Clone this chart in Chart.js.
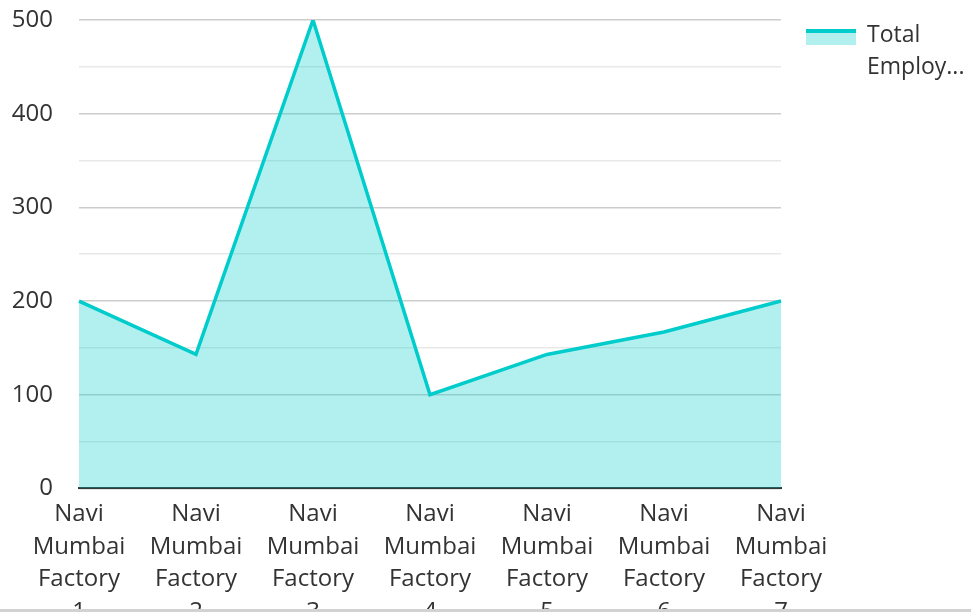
<!DOCTYPE html>
<html>
<head>
<meta charset="utf-8">
<script src="https://cdn.jsdelivr.net/npm/chart.js@4.4.0/dist/chart.umd.min.js"></script>
<style>
  html, body { margin: 0; padding: 0; background: #fff; overflow: hidden; }
  #wrap { position: relative; width: 971px; height: 638px; }
  #bar { position: fixed; left: 0; right: 0; bottom: 0; height: 3px; background: #d2d2d2; }
</style>
</head>
<body>
<div id="wrap"><canvas id="employeeChart"></canvas></div>
<div id="bar"></div>
<script>
const factories = [
  ["Navi", "Mumbai", "Factory", "1"],
  ["Navi", "Mumbai", "Factory", "2"],
  ["Navi", "Mumbai", "Factory", "3"],
  ["Navi", "Mumbai", "Factory", "4"],
  ["Navi", "Mumbai", "Factory", "5"],
  ["Navi", "Mumbai", "Factory", "6"],
  ["Navi", "Mumbai", "Factory", "7"],
];
const totalEmployees = [200, 143, 500, 100, 143, 167, 200];
const seriesName = "Total Employees";

const lineColor = "#00cccc";
const fillColor = "rgba(0, 204, 204, 0.3)";
const font = "'Open Sans', 'Noto Sans', sans-serif";

// legend drawn by hand so the label can wrap and truncate like the original
const sideLegend = {
  id: "sideLegend",
  afterDraw(chart) {
    const c = chart.ctx;
    const x = 806, y = 29;
    c.save();
    c.fillStyle = fillColor;
    c.fillRect(x, y, 50, 16);
    c.fillStyle = lineColor;
    c.fillRect(x, y, 50, 4);
    c.fillStyle = "#333";
    c.font = "23px " + font;
    c.textBaseline = "alphabetic";
    c.fillText("Total", 867, 42);
    c.fillText("Employ...", 867, 74);
    c.restore();
  },
};

new Chart(document.getElementById("employeeChart"), {
  type: "line",
  data: {
    labels: factories,
    datasets: [
      {
        label: seriesName,
        data: totalEmployees,
        borderColor: lineColor,
        backgroundColor: fillColor,
        borderWidth: 3.5,
        fill: "origin",
        pointRadius: 0,
        tension: 0,
      },
    ],
  },
  options: {
    responsive: true,
    maintainAspectRatio: false,
    animation: false,
    layout: { padding: { top: 0, left: 0, right: 190, bottom: 0 } },
    plugins: {
      legend: { display: false },
      tooltip: { enabled: false },
    },
    scales: {
      x: {
        offset: false,
        grid: { display: false, drawTicks: false },
        border: { display: true, color: "#333", width: 2 },
        ticks: {
          color: "#333",
          font: { family: font, size: 24, lineHeight: 1.35 },
          padding: 10,
          maxRotation: 0,
          autoSkip: false,
        },
      },
      y: {
        min: 0,
        max: 500,
        afterFit(s) {
          s.width = 79;
          s.paddingTop = 20;
          s.paddingBottom = 14;
        },
        grid: {
          drawTicks: false,
          lineWidth: 1.5,
          color: (ctx) => (ctx.tick && ctx.tick.value % 100 === 0 ? "rgba(0,0,0,0.2)" : "rgba(0,0,0,0.09)"),
        },
        border: { display: false },
        ticks: {
          stepSize: 50,
          color: "#333",
          font: { family: font, size: 24 },
          padding: 26,
          callback: (v) => (v % 100 === 0 ? v : ""),
        },
      },
    },
  },
  plugins: [sideLegend],
});
</script>
</body>
</html>
